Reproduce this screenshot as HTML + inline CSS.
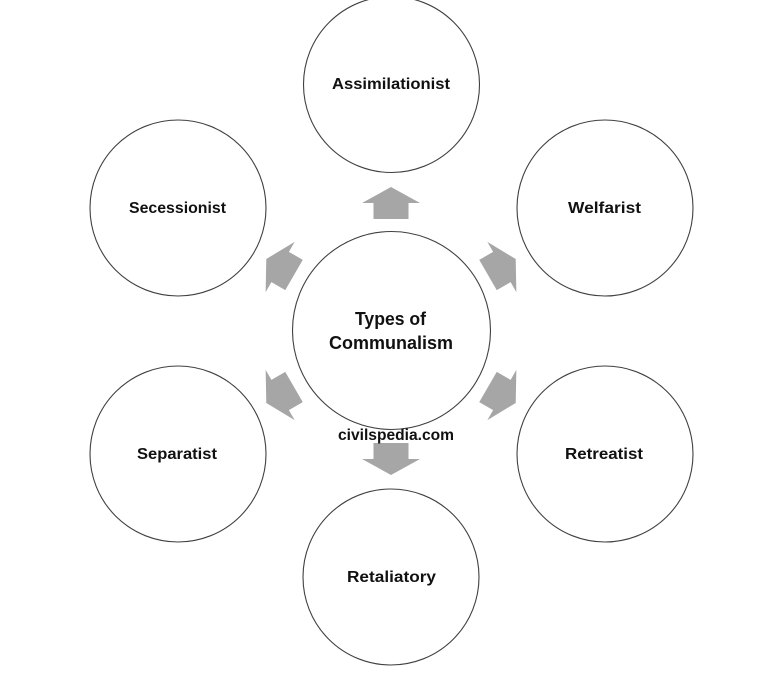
<!DOCTYPE html>
<html>
<head>
<meta charset="utf-8">
<style>
  html, body { margin: 0; padding: 0; background: #ffffff; }
  body { width: 768px; height: 684px; overflow: hidden; }
  svg { display: block; }
  text { font-family: "Liberation Sans", Arial, sans-serif; font-weight: bold; fill: #111111; }
</style>
</head>
<body>
<svg width="768" height="684" viewBox="0 0 768 684" xmlns="http://www.w3.org/2000/svg">
  <rect x="0" y="0" width="768" height="684" fill="#ffffff"/>

  <!-- arrows -->
  <g fill="#a6a6a6">
    <polygon points="391,187 420,203 408.5,203 408.5,219 373.5,219 373.5,203 362,203" transform="rotate(0 391 331)"/>
    <polygon points="391,187 420,203 408.5,203 408.5,219 373.5,219 373.5,203 362,203" transform="rotate(60 391 331)"/>
    <polygon points="391,187 420,203 408.5,203 408.5,219 373.5,219 373.5,203 362,203" transform="rotate(120 391 331)"/>
    <polygon points="391,187 420,203 408.5,203 408.5,219 373.5,219 373.5,203 362,203" transform="rotate(180 391 331)"/>
    <polygon points="391,187 420,203 408.5,203 408.5,219 373.5,219 373.5,203 362,203" transform="rotate(240 391 331)"/>
    <polygon points="391,187 420,203 408.5,203 408.5,219 373.5,219 373.5,203 362,203" transform="rotate(300 391 331)"/>
  </g>

  <!-- circles -->
  <g fill="#ffffff" stroke="#404040" stroke-width="1.1">
    <circle cx="391.5" cy="84.5" r="88"/>
    <circle cx="178" cy="208" r="88"/>
    <circle cx="605" cy="208" r="88"/>
    <circle cx="178" cy="454" r="88"/>
    <circle cx="605" cy="454" r="88"/>
    <circle cx="391" cy="577" r="88"/>
    <circle cx="391.5" cy="330.5" r="99"/>
  </g>

  <!-- labels -->
  <text x="332" y="89" font-size="16" textLength="118" lengthAdjust="spacingAndGlyphs">Assimilationist</text>
  <text x="129" y="213" font-size="16" textLength="97" lengthAdjust="spacingAndGlyphs">Secessionist</text>
  <text x="568" y="213" font-size="16" textLength="73" lengthAdjust="spacingAndGlyphs">Welfarist</text>
  <text x="137" y="459" font-size="16" textLength="80" lengthAdjust="spacingAndGlyphs">Separatist</text>
  <text x="565" y="459" font-size="16" textLength="78" lengthAdjust="spacingAndGlyphs">Retreatist</text>
  <text x="347" y="582" font-size="16" textLength="89" lengthAdjust="spacingAndGlyphs">Retaliatory</text>

  <text x="355" y="325" font-size="18" textLength="71" lengthAdjust="spacingAndGlyphs">Types of</text>
  <text x="329" y="349" font-size="18" textLength="124" lengthAdjust="spacingAndGlyphs">Communalism</text>

  <text x="338" y="440" font-size="16" textLength="116" lengthAdjust="spacingAndGlyphs">civilspedia.com</text>
</svg>
</body>
</html>
